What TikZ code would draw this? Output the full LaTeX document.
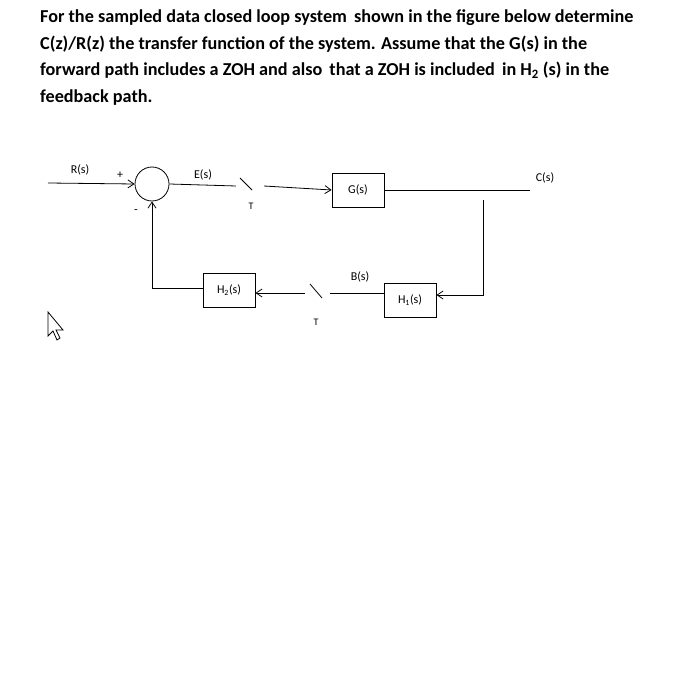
\documentclass[tikz,border=0pt]{standalone}
\usepackage{fontspec}
\setmainfont{Carlito}
\usetikzlibrary{arrows.meta}
\begin{document}
\begin{tikzpicture}[x=1pt,y=-1pt,
  blk/.style={draw,thick,minimum width=52pt,minimum height=34pt,inner sep=2pt,font=\large},
  wire/.style={thick},
  arr/.style={thick,-{Straight Barb[length=6pt,width=8pt]}},
  lbl/.style={font=\large,inner sep=1pt}]
\useasboundingbox[fill=white] (0,0) rectangle (672,700);
\node[anchor=north west,align=left,font=\fontsize{18.2}{26.5}\selectfont\bfseries,inner sep=0pt] (txt) at (40,10)
{For the sampled data closed loop system \,shown in the figure below determine\\
C(z)/R(z) the transfer function of the system. Assume that the G(s) in the\\
forward path includes a ZOH and also \,that a ZOH is included \,in H\textsubscript{2} (s) in the\\
feedback path.};
% nodes
\coordinate (in) at (48,183);
\node[draw,thick,circle,minimum size=34pt,inner sep=0pt] (sum) at (152,184) {};
\node[lbl] (R) at (80,170) {R(s)};
\node[lbl] (plus) at (120,175) {+};
\node[lbl] (minus) at (136,212) {-};
\node[lbl] (E) at (203,175) {E(s)};
\coordinate (s1a) at (236,186);
\coordinate (s1b) at (264,186);
\draw[thick] (240,178) -- (252,190);
\node[lbl,font=\normalsize] (T1) at (251,206) {T};
\node[blk] (G) at (358,190) {G(s)};
\coordinate (cout) at (530,190);
\node[lbl] (C) at (545,178) {C(s)};
\coordinate (tap) at (483,200);
\coordinate (fb1) at (483,295);
\node[blk] (H1) at (410,300) {H\textsubscript{1}(s)};
\node[lbl] (B) at (360,277) {B(s)};
\coordinate (s2a) at (330,293);
\coordinate (s2b) at (305,293);
\draw[thick] (310,284) -- (322,298);
\node[lbl,font=\normalsize] (T2) at (316,322) {T};
\node[blk] (H2) at (229,290) {H\textsubscript{2}(s)};
\coordinate (corner) at (152,288);
% connectors
\draw[arr] (in) -- (sum.west);
\draw[wire] (sum.east) -- (s1a);
\draw[arr] (s1b) -- (G.west);
\draw[wire] (G.east) -- (cout);
\draw[arr] (tap) -- (fb1) -- (H1.east |- fb1);
\draw[wire] (H1.west |- s2a) -- (s2a);
\draw[arr] (s2b) -- (H2.east |- s2b);
\draw[arr] (H2.west |- corner) -- (corner) -- (sum.south);
% cursor
\draw[thick] (48,312) -- (48,336) -- (53,331) -- (57,340) -- (60,338) -- (56,330) -- (63,330) -- cycle;
\end{tikzpicture}
\end{document}
